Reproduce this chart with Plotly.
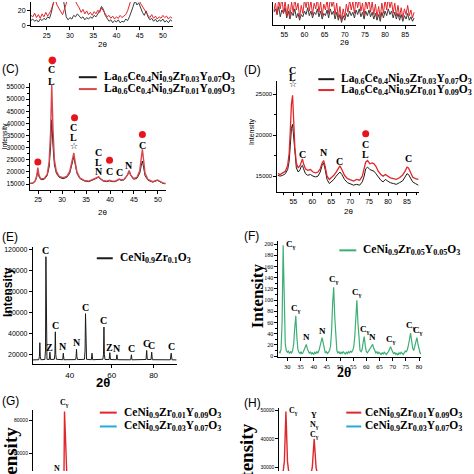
import plotly.graph_objects as go

W = H = 474
SANS = "Liberation Sans, Arial"
SERIF = "Liberation Serif, Times New Roman"

# ---------------- data ----------------
# (A) bottom of panel, noisy scan (2θ start / step)
A_x0, A_dx = 21.6, 0.4
A_black = [7, 9, 6, 8, 5, 9, 7, 10, 8, 12, 10, 18, 30, 38, 45, 40, 36, 42, 28, 12,
           8, 11, 9, 14, 12, 16, 13, 10, 12, 8, 11, 9, 12, 10, 14, 12, 16, 20, 26, 22,
           14, 9, 6, 8, 4, 7, 5, 8, 4, 6, 5, 9, 7, 12, 18, 26, 34, 28, 31, 24,
           18, 14, 20, 12, 8, 10, 6, 9, 5, 8, 6, 9, 5, 7, 4, 8, 6]
A_red = [14, 12, 17, 11, 15, 10, 16, 12, 18, 13, 17, 22, 30, 36, 28, 24, 20, 15, 22, 30,
         38, 34, 40, 36, 33, 28, 24, 18, 22, 16, 20, 15, 18, 14, 19, 16, 21, 18, 24, 20,
         15, 12, 14, 10, 13, 9, 12, 10, 14, 11, 13, 15, 20, 28, 36, 33, 40, 34, 38, 30,
         26, 22, 17, 14, 11, 15, 10, 13, 9, 12, 10, 14, 11, 13, 9, 12, 10]
# (B) bottom of panel
B_x0, B_dx = 52.4, 0.4
B_black = [55, 70, 45, 80, 35, 65, 50, 75, 30, 60, 25, 55, 40, 70, 30, 50, 20, 45, 35, 60,
           45, 75, 40, 60, 30, 55, 45, 70, 35, 60, 25, 50, 40, 65, 30, 70, 45, 60, 25, 55,
           20, 45, 10, 40, 20, 50, 35, 60, 40, 55, 30, 65, 45, 70, 35, 55, 25, 60, 40, 65,
           35, 55, 25, 50, 20, 45, 15, 55, 30, 60, 40, 70, 45, 60, 30, 55, 25, 50, 20, 45,
           15, 40, 25, 50, 20, 35, 15, 30]
B_red = [60, 95, 45, 110, 70, 120, 50, 105, 40, 90, 35, 100, 55, 115, 65, 95, 30, 85, 50, 110,
         75, 120, 60, 105, 45, 95, 70, 115, 55, 100, 40, 90, 65, 110, 50, 120, 80, 105, 45, 95,
         30, 80, 20, 70, 35, 90, 55, 110, 65, 100, 50, 115, 75, 120, 60, 95, 40, 105, 70, 115,
         55, 100, 45, 90, 35, 80, 30, 95, 50, 110, 65, 120, 75, 105, 50, 95, 40, 85, 35, 75,
         30, 70, 45, 85, 40, 65, 30, 55]

# (C)
C_x = [23.3, 24.0, 24.4, 24.7, 24.95, 25.2, 25.6, 26.3, 26.9, 27.3, 27.6, 27.85, 28.1, 28.4,
       28.8, 29.4, 30.2, 31.0, 31.6, 32.0, 32.45, 32.7, 33.1, 33.7, 34.6, 35.6, 36.5, 37.1,
       37.6, 37.9, 38.5, 39.3, 39.9, 40.4, 41.1, 41.6, 41.9, 42.3, 42.9, 43.6, 44.0, 44.3,
       44.9, 45.6, 46.2, 46.5, 46.75, 47.0, 47.3, 47.9, 48.9, 49.9, 50.5, 51.0, 51.6]
C_black = [15200, 15400, 16200, 17800, 20500, 18000, 16800, 17000, 18500, 22000, 30000, 41500,
           31000, 23000, 19500, 17800, 17200, 17800, 19500, 23000, 26300, 23500, 19500, 17300,
           16300, 16000, 16600, 17300, 17800, 17200, 16300, 16000, 16300, 16000, 16000, 16500,
           16900, 16500, 16700, 18500, 20300, 18600, 17000, 17300, 19500, 22500, 24500, 22000,
           18500, 16600, 15800, 16500, 15800, 15300, 15100]
C_red = [15300, 15500, 16400, 18300, 21800, 18500, 17100, 17300, 19000, 24000, 36000, 56000,
         38000, 25000, 20300, 18200, 17600, 18200, 20200, 24200, 27800, 24500, 20000, 17600,
         16500, 16200, 16800, 17500, 18100, 17400, 16500, 16200, 16600, 16200, 16200, 16700,
         17100, 16700, 16900, 18700, 20600, 18800, 17300, 17700, 20500, 25500, 29300, 25000,
         19500, 16900, 16000, 16700, 16000, 15500, 15300]

# (D)
D_x = [50.9, 51.5, 52.2, 52.9, 53.5, 53.9, 54.2, 54.5, 54.8, 55.1, 55.4, 55.8, 56.3, 56.8,
       57.1, 57.4, 57.7, 58.2, 58.8, 59.5, 60.2, 60.9, 61.5, 62.1, 62.6, 63.0, 63.4, 63.9,
       64.5, 65.1, 65.7, 66.3, 66.8, 67.3, 67.8, 68.5, 69.3, 70.1, 70.9, 71.7, 72.5, 73.2,
       73.7, 74.1, 74.6, 75.2, 75.8, 76.3, 76.8, 77.4, 78.1, 78.7, 79.3, 79.9, 80.6, 81.4,
       82.2, 83.0, 83.8, 84.5, 85.0, 85.4, 85.9, 86.5, 87.2, 88.0]
D_red = [15300, 15200, 15400, 15600, 16300, 17800, 20500, 23800, 24850, 22000, 18500, 16600,
         16000, 16300, 16900, 17100, 16500, 15900, 15700, 15800, 15500, 15400, 15500, 15900,
         16600, 16900, 16200, 15000, 14600, 14800, 15100, 15500, 15900, 16250, 15800, 15100,
         14700, 14500, 14400, 14600, 14500, 15000, 15800, 16700, 16900, 16500, 16600, 16500,
         16200, 15600, 15200, 15000, 15200, 15000, 14800, 14700, 14600, 14800, 15100, 15600,
         16100, 16000, 15400, 14900, 14700, 14600]
D_black = [15100, 15000, 15100, 15300, 15800, 16800, 18700, 20800, 21300, 19800, 17300, 16000,
           15500, 15800, 16200, 16300, 15900, 15300, 15100, 15200, 15000, 14900, 15000, 15500,
           16300, 16600, 15800, 14600, 14100, 14300, 14600, 15000, 15300, 15500, 15200, 14600,
           14200, 14000, 13900, 14000, 13900, 14300, 15000, 15900, 16100, 15800, 15700, 15600,
           15300, 14900, 14500, 14300, 14600, 14400, 14200, 14100, 14000, 14200, 14400, 14900,
           15300, 15200, 14700, 14300, 14100, 13900]

# (E)
E_x = [22.4, 25.2, 25.5, 25.7, 25.9, 26.2, 28.1, 28.4, 28.6, 28.8, 29.1, 30.2, 30.5, 30.8,
       32.6, 32.9, 33.1, 33.3, 33.6, 36.6, 36.9, 37.2, 42.8, 43.0, 43.2, 43.4, 43.7, 47.0,
       47.3, 47.5, 47.7, 48.0, 50.3, 50.6, 50.9, 55.8, 56.1, 56.3, 56.5, 56.8, 58.8, 59.1,
       59.4, 62.2, 62.5, 62.8, 69.1, 69.4, 69.7, 76.4, 76.7, 77.0, 78.8, 79.1, 79.4, 88.0,
       88.4, 88.8, 91.0]
E_y = [14600, 14800, 18000, 31000, 18000, 14800, 15000, 24000, 113000, 24000, 15200, 15000,
       22000, 15000, 15200, 20000, 41400, 20000, 15200, 14800, 21000, 14800, 14900, 17500,
       24700, 17500, 14900, 15200, 24000, 58700, 24000, 15200, 14800, 21000, 14800, 15200,
       20000, 46000, 20000, 15000, 15000, 21500, 15000, 14800, 19500, 14800, 14700, 19500,
       14700, 15000, 23600, 15000, 15000, 22000, 14800, 14700, 21000, 14700, 14600]

# (F)
F_x0, F_dx = 26.8, 0.4
F_y = [8, 6, 12, 60, 198, 90, 22, 10, 7, 9, 5, 8, 6, 10, 22, 50, 72, 35, 12, 7,
       5, 8, 4, 7, 12, 19, 21, 13, 7, 5, 8, 4, 6, 3, 7, 5, 8, 6, 10, 18,
       28, 33, 24, 12, 6, 8, 5, 7, 10, 18, 45, 95, 123, 70, 25, 10, 6, 8, 4, 7,
       5, 8, 6, 4, 7, 5, 8, 6, 9, 7, 10, 16, 35, 75, 100, 60, 22, 10, 8, 12,
       25, 35, 18, 8, 6, 9, 12, 16, 20, 21, 14, 9, 6, 8, 4, 7, 5, 3, 6, 4,
       7, 5, 3, 6, 8, 13, 17, 12, 6, 4, 7, 3, 5, 2, 6, 4, 7, 5, 3, 6,
       9, 8, 12, 20, 33, 41, 28, 14, 10, 18, 28, 33, 22, 10, 6, 4]

# (G) and (H) top parts
G_x = [18, 22, 25.7, 26.2, 26.7, 28.0, 28.3, 28.55, 28.8, 29.1, 30, 32.6, 33.1, 33.6, 40,
       47.0, 47.5, 48.0, 55.9, 56.4, 56.9, 65, 76.2, 76.7, 77.2, 80]
G_red = [12000, 12500, 13000, 48000, 13000, 14000, 30000, 85500, 30000, 14000, 13000, 14000,
         38000, 14000, 12500, 14000, 42000, 14000, 14000, 36000, 14000, 12500, 13000, 18000,
         13000, 12500]
G_blue = [11000, 11500, 12000, 30000, 12000, 12500, 22000, 46000, 22000, 12500, 12000, 12500,
          26000, 12500, 11500, 12500, 28000, 12500, 12500, 24000, 12500, 11500, 12000, 15000,
          12000, 11500]
H_x = [27.5, 28.0, 28.3, 28.55, 28.8, 29.1, 30, 32.5, 32.8, 33.1, 33.4, 33.7, 36, 40, 43,
       47.0, 47.5, 48.0, 50]
H_red = [26000, 26500, 32000, 49600, 32000, 26500, 26000, 26500, 30000, 40000, 30000, 26500,
         26000, 25500, 26000, 26500, 28000, 26500, 26000]
H_blue = [24000, 24500, 26000, 28000, 26000, 24500, 24000, 24500, 25500, 27500, 25500, 24500,
          24000, 23500, 24000, 24500, 25500, 24500, 24000]

# peak labels (2θ, intensity, text)
C_labels = [(32.45, 38400, "C"), (32.45, 34300, "L"),
            (37.6, 27900, "C"), (37.6, 23850, "L"), (37.6, 20000, "N"),
            (39.9, 20000, "C"), (41.9, 19800, "C"), (44.0, 22700, "N"), (46.75, 30900, "C")]
C_top_labels = [(27.85, 68, "C"), (27.85, 80, "L")]       # above the frame (pixel row)
C_stars = [(32.45, 30600)]
C_dots_x = [24.95, 32.6, 39.9, 46.75]
C_dots_y = [24100, 42300, 24800, 35400]
C_top_dots = [(27.95, 58)]
D_labels = [(57.4, 17650, "C"), (63.0, 17900, "N"),
            (67.3, 16800, "C"), (74.1, 18860, "C"), (74.1, 17650, "L"), (85.3, 17170, "C")]
D_top_labels = [(54.8, 69, "C"), (54.8, 76, "L")]
D_stars = [(54.8, 26200)]
D_dots_x = [74.1]
D_dots_y = [20150]
E_labels = [(28.6, 113000, "C"), (30.5, 20500, "Z"), (33.1, 41400, "C"), (36.9, 21000, "N"),
            (43.2, 24700, "N"), (47.5, 58700, "C"), (56.3, 46000, "C"), (59.1, 20500, "Z"),
            (62.5, 19000, "N"), (69.4, 19500, "C"), (76.7, 23600, "C"), (79.1, 22000, "C"),
            (88.4, 21000, "C")]
F_labels = [(33.2, 72, "C<sub>γ</sub>"), (37.2, 21, "N"), (43.2, 33, "N"),
            (47.6, 123, "C<sub>γ</sub>"), (56.4, 100, "C<sub>γ</sub>"), (59.4, 35, "C<sub>γ</sub>"),
            (62.4, 21, "N"), (69.2, 17, "C<sub>γ</sub>"), (76.8, 41, "C<sub>γ</sub>"),
            (79.6, 33, "C<sub>γ</sub>")]

LEG_C1 = "La<sub>0.6</sub>Ce<sub>0.4</sub>Ni<sub>0.9</sub>Zr<sub>0.03</sub>Y<sub>0.07</sub>O<sub>3</sub>"
LEG_C2 = "La<sub>0.6</sub>Ce<sub>0.4</sub>Ni<sub>0.9</sub>Zr<sub>0.01</sub>Y<sub>0.09</sub>O<sub>3</sub>"
LEG_E = "CeNi<sub>0.9</sub>Zr<sub>0.1</sub>O<sub>3</sub>"
LEG_F = "CeNi<sub>0.9</sub>Zr<sub>0.05</sub>Y<sub>0.05</sub>O<sub>3</sub>"
LEG_G1 = "CeNi<sub>0.9</sub>Zr<sub>0.01</sub>Y<sub>0.09</sub>O<sub>3</sub>"
LEG_G2 = "CeNi<sub>0.9</sub>Zr<sub>0.03</sub>Y<sub>0.07</sub>O<sub>3</sub>"

BLACK = "#1a1a1a"
RED = "#e0262b"
PINK = "#d9474c"
GREEN = "#3dae74"
BLUE = "#2aa8de"
DOT = "#e8141b"

# ---------------- figure ----------------
fig = go.Figure()


def name(n, a):
    return a if n == 1 else f"{a}{n}"


def add(n, y, color, width=1.0, x=None, x0=None, dx=None):
    kw = dict(y=y, mode="lines", line=dict(color=color, width=width),
              xaxis=name(n, "x"), yaxis=name(n, "y"), hoverinfo="skip")
    if x is not None:
        kw["x"] = x
    else:
        kw["x0"] = x0
        kw["dx"] = dx
    fig.add_trace(go.Scatter(**kw))


add(1, A_black, "#3a3a3a", 1.0, x0=A_x0, dx=A_dx)
add(1, A_red, RED, 1.0, x0=A_x0, dx=A_dx)
add(2, B_black, "#3a3a3a", 1.0, x0=B_x0, dx=B_dx)
add(2, B_red, RED, 1.0, x0=B_x0, dx=B_dx)
add(3, C_black, BLACK, 1.0, x=C_x)
add(3, C_red, PINK, 1.4, x=C_x)
add(4, D_black, BLACK, 1.0, x=D_x)
add(4, D_red, RED, 1.3, x=D_x)
add(5, E_y, BLACK, 1.0, x=E_x)
add(6, F_y, GREEN, 1.2, x0=F_x0, dx=F_dx)
add(7, G_blue, BLUE, 1.2, x=G_x)
add(7, G_red, RED, 1.4, x=G_x)
add(8, H_blue, BLUE, 1.2, x=H_x)
add(8, H_red, RED, 1.4, x=H_x)

# red dot markers
for n, xs, ys in [(3, C_dots_x, C_dots_y), (4, D_dots_x, D_dots_y)]:
    fig.add_trace(go.Scatter(x=xs, y=ys, mode="markers", cliponaxis=False,
                             marker=dict(color=DOT, size=7),
                             xaxis=name(n, "x"), yaxis=name(n, "y"), hoverinfo="skip"))


def xd(a, b):
    return [a / W, b / W]


def yd(top, bottom):
    return [max(0, 1 - bottom / H), min(1, 1 - top / H)]


def axis(domain, rng, dtick, size=7, family=SANS, show=True, fmt="d", minor=None,
         ticklen=3, tick0=0):
    d = dict(domain=domain, range=rng, dtick=dtick, tick0=tick0, showline=show,
             linecolor="black", linewidth=1, ticks="outside" if show else "",
             ticklen=ticklen, tickcolor="black", tickwidth=1, showgrid=False,
             zeroline=False, showticklabels=show, tickformat=fmt,
             tickfont=dict(family=family, size=size, color="black"))
    if minor:
        d["minor"] = dict(dtick=minor, ticks="outside", ticklen=2, tickcolor="black")
    return d


panels = {
    1: (xd(31, 173), yd(0, 24), [21.6, 52.1], 5, [0, 32], 20, 7, 7, SANS),
    2: (xd(274, 417), yd(0, 23), [52.3, 87.7], 5, [0, 100], 1000, 7, 7, SANS),
    3: (xd(30, 166), yd(82, 190), [23.3, 51.6], 5, [12550, 56600], 5000, 7, 6.5, SANS),
    4: (xd(278, 420), yd(80, 192), [50.8, 88.2], 5, [13070, 26570], 5000, 7, 6, SANS),
    5: (xd(33, 177), yd(248, 366), [22.4, 91], 20, [10570, 121900], 20000, 8, 7, SANS),
    6: (xd(279, 422), yd(242, 359), [26.6, 80.8], 5, [-1.8, 204.8], 20, 6.5, 6, SERIF),
    7: (xd(33, 219), yd(412, 474), [18, 80], 10, [49100, 86700], 20000, 6, 5, SANS),
    8: (xd(280, 420), yd(410, 474), [27.5, 50], 5, [28600, 51000], 10000, 6, 5, SANS),
}
lay = {}
for n, (xdom, ydom, xr, xdt, yr, ydt, xs, ys, fam) in panels.items():
    showx = n <= 6
    xa = axis(xdom, xr, xdt, size=xs, family=fam, show=showx,
              minor=(xdt / 2 if n in (3, 4) else None))
    ya = axis(ydom, yr, ydt, size=ys, family=fam,
              minor=(ydt / 2 if n in (3, 4, 6) else None))
    if n == 2:
        ya["showticklabels"] = False
        ya["ticks"] = ""
    xa["anchor"] = name(n, "y")
    ya["anchor"] = name(n, "x")
    lay[name(n, "xaxis")] = xa
    lay[name(n, "yaxis")] = ya

annotations = []
shapes = []


def P(text, px, py, size=10, family=SANS, color="black", xanchor="center",
      yanchor="middle", angle=0):
    annotations.append(dict(text=text, x=px / W, y=1 - py / H, xref="paper", yref="paper",
                            showarrow=False, xanchor=xanchor, yanchor=yanchor,
                            textangle=angle, font=dict(family=family, size=size, color=color)))


def L(n, x, y, text, size=10, yanchor="middle", xanchor="center", family=SERIF, yshift=0,
      color="black", bold=True, ypaper=False):
    annotations.append(dict(text=f"<b>{text}</b>" if bold else text, x=x,
                            y=(1 - y / H) if ypaper else y, xref=name(n, "x"),
                            yref="paper" if ypaper else name(n, "y"), showarrow=False,
                            yanchor=yanchor, xanchor=xanchor, yshift=yshift,
                            font=dict(family=family, size=size, color=color)))


def legend_entry(x1, x2, py, color, text, tx, size=11.5):
    shapes.append(dict(type="line", xref="paper", yref="paper", x0=x1 / W, x1=x2 / W,
                       y0=1 - py / H, y1=1 - py / H, line=dict(color=color, width=2)))
    P(f"<b>{text}</b>", tx, py, size=size, family=SERIF, xanchor="left")


# axis titles
P("2θ", 103, 43, 8)
P("2θ", 345, 41, 8)
P("2θ", 103, 213, 8)
P("Intensity", 5, 135, 7, angle=-90)
P("2θ", 349, 212, 8)
P("Intensity", 252, 131, 7, angle=-90)
P("<b>Intensity</b>", 8, 293, 12, angle=-90)
P("<b>2θ</b>", 103, 385, 13)
P("<b>Intensity</b>", 258, 297, 17, family=SERIF, angle=-90)
P("<b>2θ</b>", 345, 374, 14, family=SERIF)
P("<b>Intensity</b>", 10, 466, 19, family=SERIF, angle=-90)
P("<b>Intensity</b>", 247, 462, 19, family=SERIF, angle=-90)

# panel tags
P("(C)", 0, 68, 12, xanchor="left")
P("(D)", 243, 69, 12, xanchor="left")
P("(E)", 0, 237, 12, xanchor="left")
P("(F)", 243, 236, 12, xanchor="left")
P("(G)", 0, 403, 12, xanchor="left")
P("(H)", 243, 405, 12, xanchor="left")

# legends
legend_entry(79, 97, 76, BLACK, LEG_C1, 102)
legend_entry(79, 97, 88, PINK, LEG_C2, 102)
legend_entry(319, 335, 78, BLACK, LEG_C1, 340)
legend_entry(319, 335, 89, RED, LEG_C2, 340)
legend_entry(97, 113, 259, BLACK, LEG_E, 118)
legend_entry(340, 357, 251, GREEN, LEG_F, 362)
legend_entry(100, 117, 415, RED, LEG_G1, 122)
legend_entry(100, 117, 429, BLUE, LEG_G2, 122)
legend_entry(347, 362, 415, RED, LEG_G1, 364)
legend_entry(347, 362, 429, BLUE, LEG_G2, 364)

# peak labels
for x, y, t in C_labels:
    L(3, x, y, t, 10)
for x, py, t in C_top_labels:
    L(3, x, py, t, 10, ypaper=True)
for x, py in C_top_dots:
    L(3, x, py, "●", 10, family="DejaVu Sans", color=DOT, bold=False, ypaper=True)
for x, y in C_stars:
    L(3, x, y, "☆", 9, family="DejaVu Sans")
for x, y, t in D_labels:
    L(4, x, y, t, 10)
for x, py, t in D_top_labels:
    L(4, x, py, t, 10, ypaper=True)
for x, y in D_stars:
    L(4, x, y, "☆", 9, family="DejaVu Sans")
for x, y, t in E_labels:
    L(5, x, y, t, 10, yanchor="bottom", yshift=-1)
L(6, 28.6, 200, "C<sub>γ</sub>", 9, xanchor="left")
for x, y, t in F_labels:
    L(6, x, y, t, 9, yanchor="bottom", yshift=0)
L(7, 28.55, 405, "C<sub>γ</sub>", 8, ypaper=True)
L(7, 26.2, 50500, "N", 8)
L(8, 28.7, 50000, "C<sub>γ</sub>", 8, xanchor="left")
L(8, 33.1, 48250, "Y", 8)
L(8, 33.1, 44740, "N<sub>γ</sub>", 8)
L(8, 33.1, 41230, "C<sub>γ</sub>", 8)

fig.update_layout(width=W, height=H, margin=dict(l=0, r=0, t=0, b=0),
                  paper_bgcolor="white", plot_bgcolor="white", showlegend=False,
                  annotations=annotations, shapes=shapes, **lay)
fig.write_html("out.html")
